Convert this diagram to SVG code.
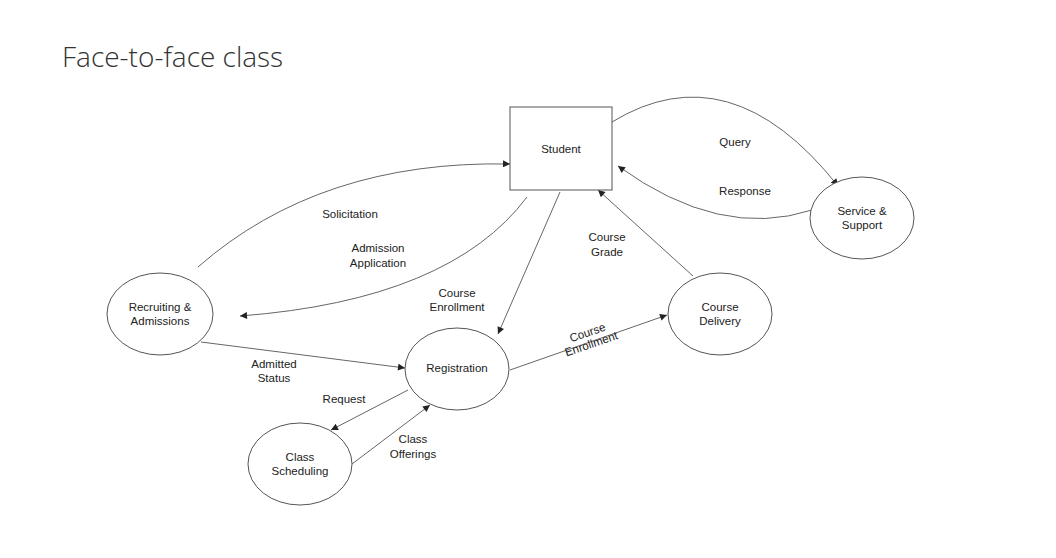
<svg xmlns="http://www.w3.org/2000/svg" width="1056" height="558" viewBox="0 0 1056 558">
<defs>
<style>
.n{fill:#fff;stroke:#555;stroke-width:1}
.c{fill:none;stroke:#666;stroke-width:1;marker-end:url(#a)}
text{font-family:"Liberation Sans",Arial,sans-serif;font-size:11.5px;fill:#222;text-anchor:middle}
</style>
<marker id="a" viewBox="0 0 10 10" refX="10" refY="5" markerWidth="9" markerHeight="7" orient="auto" markerUnits="userSpaceOnUse"><path d="M0,0L10,5L0,10z" fill="#222"/></marker>
</defs>
<rect width="1056" height="558" fill="#fff"/>
<text x="62" y="67" style="font-size:28px;text-anchor:start;fill:#333;font-family:'Open Sans','Liberation Sans',sans-serif;font-weight:300">Face-to-face class</text>
<g id="connectors">
<path class="c" d="M198,267 Q320,160 510,164"/>
<path class="c" d="M527,197 Q450,300 240,316"/>
<path class="c" d="M560,192 L498,334"/>
<path class="c" d="M201,342 L405,368"/>
<path class="c" d="M408,390 L331,430"/>
<path class="c" d="M352,464 L430,405"/>
<path class="c" d="M510,370 L667,315"/>
<path class="c" d="M693,276 L598,190"/>
<path class="c" d="M612,122 Q730,50 838,186"/>
<path class="c" d="M812,210 Q720,240 618,166"/>
<text x="350" y="218">Solicitation</text>
<text x="378" y="252">Admission</text><text x="378" y="267">Application</text>
<text x="457" y="297">Course</text><text x="457" y="311">Enrollment</text>
<text x="274" y="368">Admitted</text><text x="274" y="382">Status</text>
<text x="344" y="403">Request</text>
<text x="413" y="443">Class</text><text x="413" y="458">Offerings</text>
<text x="607" y="241">Course</text><text x="607" y="256">Grade</text>
<text x="735" y="146">Query</text>
<text x="745" y="195">Response</text>
<g transform="translate(590,340) rotate(-19)"><text x="0" y="-4">Course</text><text x="0" y="8">Enrollment</text></g>
</g>
<g id="student"><rect class="n" x="510" y="107" width="102" height="83"/><text x="561" y="153">Student</text></g>
<g id="recruiting"><ellipse class="n" cx="160" cy="314" rx="53" ry="41"/><text x="160" y="311">Recruiting &amp;</text><text x="160" y="325">Admissions</text></g>
<g id="registration"><ellipse class="n" cx="457" cy="369" rx="52" ry="41"/><text x="457" y="372">Registration</text></g>
<g id="scheduling"><ellipse class="n" cx="300" cy="464" rx="52" ry="41"/><text x="300" y="461">Class</text><text x="300" y="475">Scheduling</text></g>
<g id="delivery"><ellipse class="n" cx="720" cy="314" rx="52" ry="41"/><text x="720" y="311">Course</text><text x="720" y="325">Delivery</text></g>
<g id="service"><ellipse class="n" cx="862" cy="218" rx="52" ry="41"/><text x="862" y="215">Service &amp;</text><text x="862" y="229">Support</text></g>
</svg>
